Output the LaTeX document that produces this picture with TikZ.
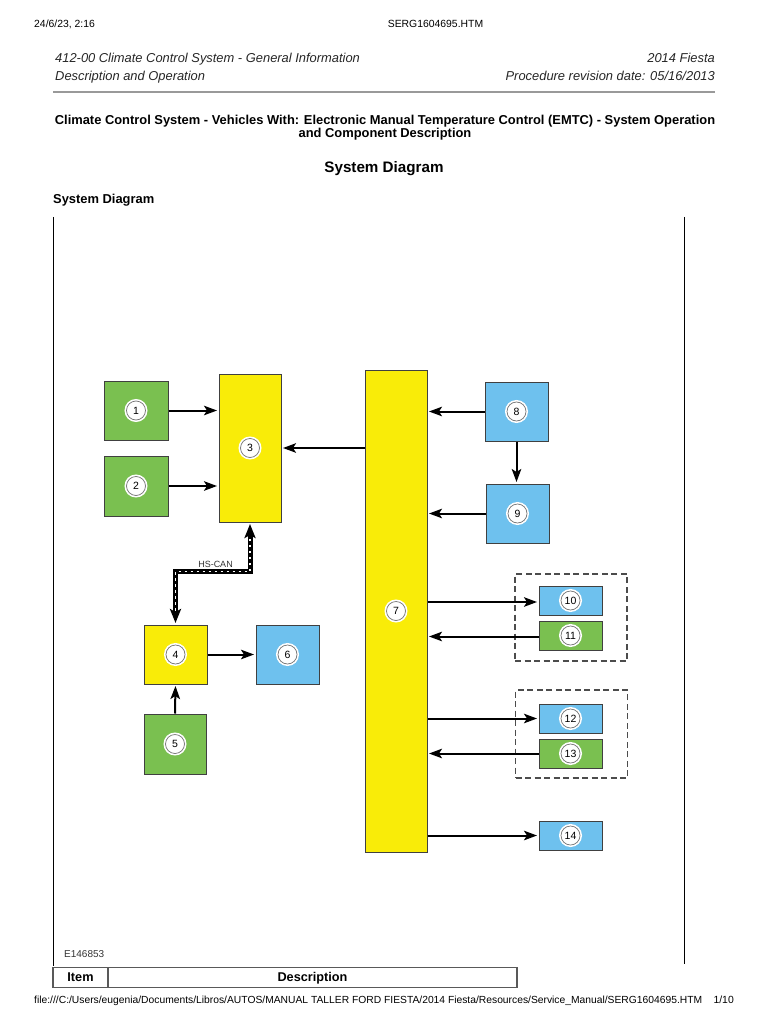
\documentclass[tikz,border=0pt]{standalone}
\usepackage{fontspec}
\setmainfont{Liberation Sans}
\usetikzlibrary{positioning,arrows.meta}
\definecolor{boxgreen}{RGB}{122,192,80}
\definecolor{boxblue}{RGB}{110,193,238}
\definecolor{boxyellow}{RGB}{249,236,8}
\begin{document}
\begin{tikzpicture}[%
	x=1pt, y=-1pt,
	>={Stealth[length=13pt, width=9.5pt, inset=3pt]}, shorten >=1.5pt,
	box/.style={draw=black!75, line width=1pt, inner sep=0},
	greenbox/.style={box, fill=boxgreen},
	bluebox/.style={box, fill=boxblue},
	yellowbox/.style={box, fill=boxyellow},
	num/.style={circle, draw=black!55, line width=.7pt, fill=white, minimum size=19pt, inner sep=0, font=\fontsize{10.5}{11}\selectfont, preaction={draw=white, line width=4pt}},
	flow/.style={->, line width=2pt, black},
	group/.style={draw=black!70, line width=1.2pt, dash pattern=on 6pt off 3.5pt, minimum width=112pt, minimum height=87pt},
	page/.style={inner sep=0, text depth=2.5pt, text height=8pt, font=\fontsize{10.4}{11}\selectfont},
	head/.style={inner sep=0, text depth=3pt, text height=10pt, font=\fontsize{12.9}{14}\itshape, text=black!85},
	title/.style={inner sep=0, align=center, font=\fontsize{12.9}{13.5}\bfseries},
	cell/.style={draw=black!65, line width=1.3pt, minimum height=20pt, inner sep=0, text depth=1.5pt, text height=9pt, font=\fontsize{12.7}{14}\bfseries}
	]
	\useasboundingbox (0,0) rectangle (768,1024);
	
	% page text
	\node[page, anchor=west] (date) at (34,25) {24/6/23, 2:16};
	\node[page] (file) at (435.5,25) {SERG1604695.HTM};
	\node[head, anchor=west] (chapter) at (55,59) {412-00 Climate Control System - General Information};
	\node[head, anchor=east] (model) at (715,59) {2014 Fiesta};
	\node[head, anchor=west] (descr) at (55,77) {Description and Operation};
	\node[head, anchor=east] (revision) at (715,77) {Procedure revision date: 05/16/2013};
	\coordinate (ruleL) at (53,92);
	\coordinate (ruleR) at (716,92);
	\draw[black!40, line width=1.2pt] (ruleL) -- (ruleR);
	\node[title] (maintitle) at (385,127.5) {Climate Control System - Vehicles With: Electronic Manual Temperature Control (EMTC) - System Operation\\[-.6pt]and Component Description};
	\node[title, font=\fontsize{15.2}{16}\bfseries] (subtitle) at (384,169) {System Diagram};
	\node[title, anchor=west] (section) at (53,200.5) {System Diagram};
	
	% frame of the figure
	\coordinate (frameLa) at (53,217);
	\coordinate (frameLb) at (53,967);
	\coordinate (frameRa) at (684.5,217);
	\coordinate (frameRb) at (684.5,965);
	\draw[line width=1pt] (frameLa) -- (frameLb);
	\draw[line width=1pt] (frameRa) -- (frameRb);
	
	% boxes
	\node[greenbox, minimum width=64pt, minimum height=59pt] (1) at (136,410.5) {};
	\node[greenbox, minimum width=64pt, minimum height=60pt] (2) at (136,486) {};
	\node[yellowbox, minimum width=62pt, minimum height=148pt] (3) at (250,448) {};
	\node[yellowbox, minimum width=63pt, minimum height=59pt] (4) at (175.5,654.5) {};
	\node[greenbox, minimum width=62pt, minimum height=60pt] (5) at (175,744) {};
	\node[bluebox, minimum width=63pt, minimum height=59pt] (6) at (287.5,654.5) {};
	\node[yellowbox, minimum width=62pt, minimum height=482pt] (7) at (396,611) {};
	\node[bluebox, minimum width=63pt, minimum height=59pt] (8) at (516.5,411.5) {};
	\node[bluebox, minimum width=63pt, minimum height=59pt] (9) at (517.5,513.5) {};
	\node[bluebox, minimum width=63pt, minimum height=29pt] (10) at (570.5,600.5) {};
	\node[greenbox, minimum width=63pt, minimum height=29pt] (11) at (570.5,635.5) {};
	\node[bluebox, minimum width=63pt, minimum height=29pt] (12) at (570.5,718.5) {};
	\node[greenbox, minimum width=63pt, minimum height=29pt] (13) at (570.5,753.5) {};
	\node[bluebox, minimum width=63pt, minimum height=29pt] (14) at (570.5,835.5) {};
	
	\node[group] (groupA) at (571,617.5) {};
	\node[group, minimum height=88pt] (groupB) at (571.5,734) {};
	
	% numbers
	\node[num] (n1) at (1) {1};
	\node[num] (n2) at (2) {2};
	\node[num] (n3) at (3) {3};
	\node[num] (n4) at (4) {4};
	\node[num] (n5) at (5) {5};
	\node[num] (n6) at (6) {6};
	\node[num] (n7) at (7) {7};
	\node[num] (n8) at (8) {8};
	\node[num] (n9) at (9) {9};
	\node[num] (n10) at (10) {10};
	\node[num] (n11) at (11) {11};
	\node[num] (n12) at (12) {12};
	\node[num] (n13) at (13) {13};
	\node[num] (n14) at (14) {14};
	
	% connections
	\draw[flow] (1.east) -- (1.east -| 3.west);
	\draw[flow] (2.east) -- (2.east -| 3.west);
	\draw[flow] (3.east -| 7.west) -- (3.east);
	\draw[flow] (8.west) -- (8.west -| 7.east);
	\draw[flow] (8.south) -- (8.south |- 9.north);
	\draw[flow] (9.west) -- (9.west -| 7.east);
	\draw[flow] ([yshift=-1.5pt]10.west -| 7.east) -- ([yshift=-1.5pt]10.west);
	\draw[flow] ([yshift=-1pt]11.west) -- ([yshift=-1pt]11.west -| 7.east);
	\draw[flow] (12.west -| 7.east) -- (12.west);
	\draw[flow] (13.west) -- (13.west -| 7.east);
	\draw[flow] (14.west -| 7.east) -- (14.west);
	\draw[flow] (4.east) -- (6.west);
	\draw[flow] (5.north) -- (4.south);
	
	% bus
	\coordinate (busmid) at (215.5,571.5);
	\draw[<->, >={Stealth[length=14pt, width=11pt, inset=3pt]}, line width=5pt, shorten <=1.5pt] (4.north) |- (busmid) -| (3.south);
	\draw[white, line width=1.3pt, dash pattern=on 2.5pt off 3.5pt, shorten >=14pt, shorten <=14pt] (4.north) |- (busmid) -| (3.south);
	\node[inner sep=0, font=\fontsize{9}{9}\selectfont, text=black!80, above=4pt of busmid] (hscan) {HS-CAN};
	
	\node[page, font=\fontsize{10}{11}\selectfont, anchor=west, text=black!80] (code) at (64,955) {E146853};
	
	% table header
	\node[cell, minimum width=55pt] (item) at (80.5,977.5) {Item};
	\node[cell, minimum width=409pt] (desc) at (312.5,977.5) {Description};
	
	\node[page, font=\fontsize{10.3}{11}\selectfont, anchor=west] (url) at (34,1000.5) {file:///C:/Users/eugenia/Documents/Libros/AUTOS/MANUAL TALLER FORD FIESTA/2014 Fiesta/Resources/Service\_Manual/SERG1604695.HTM};
	\node[page, anchor=east] (pagenum) at (734,1000.5) {1/10};
\end{tikzpicture}
\end{document}
